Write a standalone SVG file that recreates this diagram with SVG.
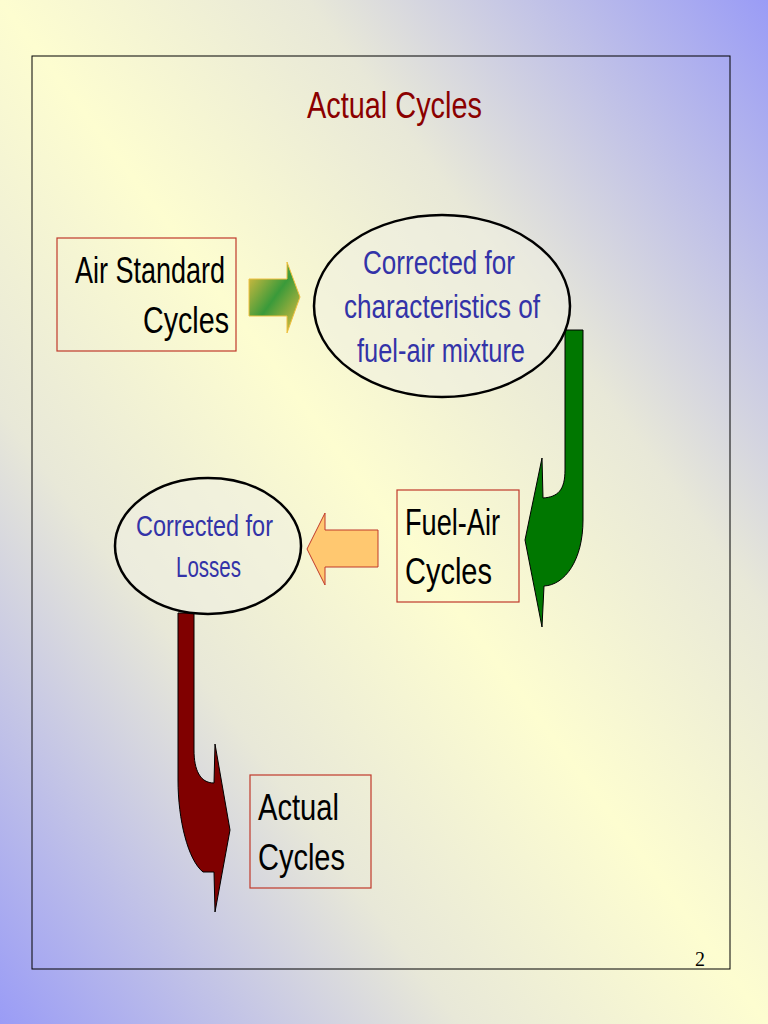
<svg xmlns="http://www.w3.org/2000/svg" width="768" height="1024" viewBox="0 0 768 1024">
<defs>
<linearGradient id="bg" x1="0" y1="1" x2="1" y2="0">
<stop offset="0" stop-color="#9a9cf6"/><stop offset="0.3" stop-color="#e8e8d8"/><stop offset="0.5" stop-color="#fdfdd0"/><stop offset="0.7" stop-color="#e8e8d8"/><stop offset="1" stop-color="#9a9cf6"/>
</linearGradient>
<linearGradient id="ga" x1="0" y1="0" x2="1" y2="1">
<stop offset="0" stop-color="#f0c040"/><stop offset="0.5" stop-color="#3a9a3a"/><stop offset="1" stop-color="#f0c040"/>
</linearGradient>
<style>
.box{fill:none;stroke:#c0392b;stroke-width:1.2}
.ell{fill:#f0f0e4;fill-opacity:0.5;stroke:#000;stroke-width:2.5}
.bk{font-family:"Liberation Sans",Arial,sans-serif;font-size:36px;fill:#000}
.bl{font-family:"Liberation Sans",Arial,sans-serif;font-size:33px;fill:#3333a8}
.bs{font-family:"Liberation Sans",Arial,sans-serif;font-size:30px;fill:#3333a8}
</style>
</defs>
<rect width="768" height="1024" fill="url(#bg)"/>
<rect x="32" y="56" width="698" height="913" fill="none" stroke="#000" stroke-width="1"/>
<text x="307" y="118" textLength="175" lengthAdjust="spacingAndGlyphs" font-family="Liberation Sans,Arial,sans-serif" font-size="37" fill="#8b0000">Actual Cycles</text>
<g id="connectors">
<path d="M249,279 L287,279 L287,262 L300,297 L287,333 L287,316 L249,316 Z" fill="url(#ga)" stroke="#f0c040" stroke-width="1"/>
<path d="M565,330 L583,330 L583,520 C583,560 565,585 544,586 L542,627 L525,540 L542,458 L543,498 C558,497 565,490 565,470 Z" fill="#007700" stroke="#000" stroke-width="1"/>
<path d="M378,530 L325,530 L325,513 L307,549 L325,585 L325,567 L378,567 Z" fill="#ffc870" stroke="#c0392b" stroke-width="1"/>
<path d="M178,613 L194,613 L194,750 C194,770 200,783 214,783 L215,744 L230,830 L215,912 L214,872 L203,872 C188,860 178,820 178,780 Z" fill="#800000" stroke="#000" stroke-width="1"/>
</g>
<g id="air-standard"><rect class="box" x="57" y="238" width="179" height="113"/>
<text class="bk" x="75" y="283" textLength="150" lengthAdjust="spacingAndGlyphs">Air Standard</text><text class="bk" x="143" y="333" textLength="86" lengthAdjust="spacingAndGlyphs">Cycles</text></g>
<g id="corrected-mixture"><ellipse class="ell" cx="442" cy="306" rx="128" ry="91"/>
<text class="bl" x="363" y="274" textLength="152" lengthAdjust="spacingAndGlyphs">Corrected for</text>
<text class="bl" x="344" y="318" textLength="196" lengthAdjust="spacingAndGlyphs">characteristics of</text>
<text class="bl" x="357" y="362" textLength="168" lengthAdjust="spacingAndGlyphs">fuel-air mixture</text></g>
<g id="fuel-air"><rect class="box" x="397" y="490" width="122" height="112"/>
<text class="bk" x="405" y="535" textLength="95" lengthAdjust="spacingAndGlyphs">Fuel-Air</text><text class="bk" x="405" y="584" textLength="87" lengthAdjust="spacingAndGlyphs">Cycles</text></g>
<g id="corrected-losses"><ellipse class="ell" cx="208" cy="546" rx="93" ry="68"/>
<text class="bs" x="136" y="536" textLength="137" lengthAdjust="spacingAndGlyphs">Corrected for</text>
<text class="bs" x="176" y="577" textLength="65" lengthAdjust="spacingAndGlyphs">Losses</text></g>
<g id="actual"><rect class="box" x="250" y="775" width="121" height="113"/>
<text class="bk" x="258" y="820" textLength="81" lengthAdjust="spacingAndGlyphs">Actual</text><text class="bk" x="258" y="870" textLength="87" lengthAdjust="spacingAndGlyphs">Cycles</text></g>
<text x="700" y="966" font-family="Liberation Serif,serif" font-size="20" text-anchor="middle">2</text>
</svg>
